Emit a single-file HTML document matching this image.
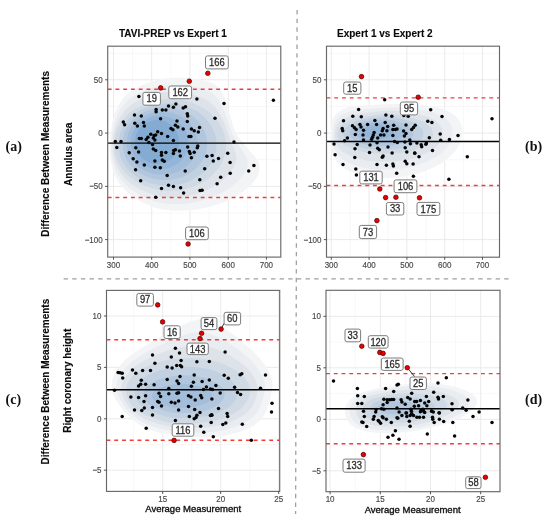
<!DOCTYPE html>
<html><head><meta charset="utf-8"><style>
html,body{margin:0;padding:0;background:#fff;}
svg{display:block;}
.tk{font-family:"Liberation Sans",Arial,sans-serif;font-size:8px;fill:#4a4a4a;stroke:#4a4a4a;stroke-width:0.15px;}
.lb{font-family:"Liberation Sans",Arial,sans-serif;font-size:9.4px;fill:#2a2a2a;stroke:#2a2a2a;stroke-width:0.25px;}
.ti{font-family:"Liberation Sans",Arial,sans-serif;font-size:10px;font-weight:bold;fill:#0a0a0a;stroke:#0a0a0a;stroke-width:0.12px;}
.ax{font-family:"Liberation Sans",Arial,sans-serif;font-size:10px;font-weight:bold;fill:#0a0a0a;stroke:#0a0a0a;stroke-width:0.12px;}
.axx{font-family:"Liberation Sans",Arial,sans-serif;font-size:9.5px;fill:#111;stroke:#111;stroke-width:0.35px;}
.pl{font-family:"Liberation Serif","Times New Roman",serif;font-size:14px;font-weight:bold;fill:#111;}
</style></head><body>
<svg width="550" height="520" viewBox="0 0 550 520">
<rect width="550" height="520" fill="#fff"/>
<defs>
<clipPath id="cTL"><rect x="107.7" y="46.2" width="173.1" height="210.9"/></clipPath>
<clipPath id="cTR"><rect x="326.5" y="46.2" width="173" height="211"/></clipPath>
<clipPath id="cBL"><rect x="106.5" y="290.4" width="173.2" height="201"/></clipPath>
<clipPath id="cBR"><rect x="326" y="290.3" width="174" height="201.4"/></clipPath>
<filter id="soft" x="-10%" y="-10%" width="120%" height="120%"><feGaussianBlur stdDeviation="0.6"/></filter>
</defs>
<line x1="63.6" y1="278.8" x2="510" y2="278.8" stroke="#a0a0a0" stroke-width="1.3" stroke-dasharray="4.4 4.24"/>
<line x1="297.1" y1="10" x2="295.6" y2="514" stroke="#a0a0a0" stroke-width="1.3" stroke-dasharray="4.4 4.24"/>
<g clip-path="url(#cTL)">
<line x1="132.6" y1="46.2" x2="132.6" y2="257.1" stroke="#f2f2f2" stroke-width="0.6"/>
<line x1="170.8" y1="46.2" x2="170.8" y2="257.1" stroke="#f2f2f2" stroke-width="0.6"/>
<line x1="209.1" y1="46.2" x2="209.1" y2="257.1" stroke="#f2f2f2" stroke-width="0.6"/>
<line x1="247.3" y1="46.2" x2="247.3" y2="257.1" stroke="#f2f2f2" stroke-width="0.6"/>
<line x1="107.7" y1="53.2" x2="280.8" y2="53.2" stroke="#f2f2f2" stroke-width="0.6"/>
<line x1="107.7" y1="106.5" x2="280.8" y2="106.5" stroke="#f2f2f2" stroke-width="0.6"/>
<line x1="107.7" y1="159.7" x2="280.8" y2="159.7" stroke="#f2f2f2" stroke-width="0.6"/>
<line x1="107.7" y1="213" x2="280.8" y2="213" stroke="#f2f2f2" stroke-width="0.6"/>
<line x1="113.5" y1="46.2" x2="113.5" y2="257.1" stroke="#e8e8e8" stroke-width="0.9"/>
<line x1="151.7" y1="46.2" x2="151.7" y2="257.1" stroke="#e8e8e8" stroke-width="0.9"/>
<line x1="189.9" y1="46.2" x2="189.9" y2="257.1" stroke="#e8e8e8" stroke-width="0.9"/>
<line x1="228.2" y1="46.2" x2="228.2" y2="257.1" stroke="#e8e8e8" stroke-width="0.9"/>
<line x1="266.4" y1="46.2" x2="266.4" y2="257.1" stroke="#e8e8e8" stroke-width="0.9"/>
<line x1="107.7" y1="79.8" x2="280.8" y2="79.8" stroke="#e8e8e8" stroke-width="0.9"/>
<line x1="107.7" y1="133.1" x2="280.8" y2="133.1" stroke="#e8e8e8" stroke-width="0.9"/>
<line x1="107.7" y1="186.4" x2="280.8" y2="186.4" stroke="#e8e8e8" stroke-width="0.9"/>
<line x1="107.7" y1="239.6" x2="280.8" y2="239.6" stroke="#e8e8e8" stroke-width="0.9"/>
<g filter="url(#soft)">
<path d="M157,80C166.2,77.7 175.8,77.5 185,78C194.2,78.5 205.5,80 212,83C218.5,86 221,90.7 224,96C227,101.3 228,108.8 230,115C232,121.2 232.8,127.2 236,133C239.2,138.8 245.2,145 249,150C252.8,155 257.7,158.5 259,163C260.3,167.5 259.5,172.3 257,177C254.5,181.7 249.8,186.7 244,191C238.2,195.3 230.7,199.8 222,203C213.3,206.2 202.3,209 192,210C181.7,211 170,211.3 160,209C150,206.7 139.3,201.2 132,196C124.7,190.8 119.7,184.8 116,178C112.3,171.2 110.8,163 110,155C109.2,147 109.8,137.8 111,130C112.2,122.2 113.8,114.3 117,108C120.2,101.7 123.3,96.7 130,92C136.7,87.3 147.8,82.3 157,80Z" fill="rgb(243, 244, 246)"/>
<path d="M157.7,86.6C166.3,84.6 175.6,84.6 184.1,85.4C192.5,86.1 202.5,88.2 208.5,91C214.4,93.7 216.8,97.5 219.8,102C222.9,106.6 224.6,112.8 226.7,118.1C228.8,123.5 229.9,129.1 232.4,134.3C234.8,139.5 238.8,145 241.3,149.3C243.8,153.6 246.9,156.3 247.6,160C248.3,163.8 247.6,167.7 245.5,171.6C243.4,175.6 239.9,179.9 235.2,183.8C230.5,187.7 224.6,191.9 217.1,195.1C209.7,198.3 200.1,201.6 190.7,202.9C181.2,204.1 170,204.7 160.5,202.8C150.9,200.9 140.6,195.9 133.5,191.3C126.5,186.7 121.7,181.2 118.1,175C114.4,168.8 112.5,161.5 111.6,154.2C110.7,146.9 111.3,138.3 112.6,131.2C113.9,124.1 116.1,117.2 119.4,111.6C122.6,105.9 125.7,101.6 132.1,97.4C138.5,93.3 149,88.6 157.7,86.6Z" fill="rgb(233, 236, 240)"/>
<path d="M158.3,93.3C166.5,91.6 175.4,91.8 183.2,92.7C190.9,93.7 199.5,96.4 204.9,98.9C210.4,101.5 212.6,104.3 215.6,108.1C218.7,111.8 221.2,116.7 223.4,121.3C225.6,125.9 227,131 228.7,135.5C230.4,140.1 232.3,145 233.6,148.6C234.8,152.2 236.2,154.1 236.3,157.1C236.3,160 235.7,163 234,166.3C232.4,169.5 230,173 226.4,176.5C222.7,180 218.4,184 212.3,187.2C206.1,190.4 197.9,194.1 189.3,195.7C180.7,197.3 169.9,198.2 160.9,196.6C151.9,195.1 141.8,190.7 135,186.6C128.2,182.5 123.8,177.5 120.1,172C116.5,166.5 114.2,160 113.2,153.4C112.2,146.8 112.7,138.8 114.2,132.4C115.6,126.1 118.4,120 121.7,115.1C125.1,110.2 128.1,106.5 134.2,102.9C140.3,99.2 150.2,94.9 158.3,93.3Z" fill="rgb(222, 227, 234)"/>
<path d="M159,99.9C166.7,98.5 175.2,98.9 182.2,100.1C189.3,101.3 196.5,104.6 201.4,106.9C206.3,109.2 208.4,111.2 211.5,114.1C214.6,117 217.8,120.6 220.1,124.4C222.4,128.2 224.1,132.9 225.1,136.8C226.1,140.7 225.9,145 225.9,147.9C225.9,150.8 225.4,152 224.9,154.1C224.3,156.3 223.8,158.4 222.6,160.9C221.3,163.4 220.1,166.2 217.6,169.3C215,172.3 212.3,176 207.4,179.3C202.4,182.5 195.6,186.7 188,188.6C180.3,190.4 169.9,191.6 161.4,190.4C152.8,189.3 143.1,185.5 136.5,181.9C130,178.3 125.8,173.9 122.2,169C118.6,164.1 115.8,158.4 114.8,152.6C113.7,146.7 114.2,139.3 115.7,133.7C117.3,128 120.7,122.9 124.1,118.7C127.5,114.4 130.4,111.4 136.3,108.3C142.1,105.2 151.4,101.3 159,99.9Z" fill="rgb(208, 218, 229)"/>
<path d="M157.8,104C164.5,102.8 171.9,103.1 178.1,104.2C184.4,105.2 190.7,108.2 195,110.3C199.3,112.4 201.1,114.1 203.8,116.7C206.6,119.3 209.4,122.6 211.4,126C213.4,129.4 215,133.5 215.8,137C216.7,140.5 216.5,144.4 216.5,147C216.5,149.6 216.1,150.6 215.6,152.6C215.1,154.5 214.6,156.4 213.6,158.6C212.5,160.9 211.4,163.4 209.2,166.2C207,168.9 204.6,172.2 200.2,175.1C195.9,178 189.9,181.8 183.2,183.4C176.4,185.1 167.3,186.1 159.8,185.1C152.3,184.1 143.7,180.6 138,177.4C132.3,174.2 128.6,170.3 125.4,165.9C122.2,161.5 119.8,156.4 118.9,151.2C117.9,145.9 118.4,139.3 119.7,134.2C121.1,129.2 124.1,124.6 127.1,120.8C130.1,117 132.6,114.3 137.8,111.5C142.9,108.7 151,105.2 157.8,104Z" fill="rgb(194, 209, 225)"/>
<path d="M156.5,108.1C162.3,107 168.7,107.4 174.1,108.3C179.4,109.2 184.9,111.8 188.6,113.7C192.3,115.5 193.8,117 196.2,119.3C198.6,121.6 201,124.5 202.7,127.5C204.4,130.5 205.8,134.2 206.5,137.3C207.2,140.4 207.1,143.8 207.1,146.1C207.1,148.4 206.8,149.3 206.4,151C205.9,152.7 205.5,154.4 204.6,156.4C203.7,158.4 202.7,160.6 200.8,163C198.9,165.4 196.8,168.4 193.1,170.9C189.4,173.4 184.2,176.8 178.4,178.3C172.6,179.8 164.7,180.6 158.3,179.8C151.8,178.9 144.4,175.8 139.5,173C134.5,170.2 131.4,166.6 128.6,162.8C125.9,158.9 123.8,154.4 123,149.8C122.2,145.1 122.5,139.3 123.7,134.8C124.9,130.4 127.4,126.3 130,123C132.6,119.6 134.8,117.2 139.3,114.7C143.7,112.3 150.7,109.2 156.5,108.1Z" fill="rgb(178, 199, 221)"/>
<path d="M155.2,112.2C160.1,111.3 165.5,111.6 170,112.4C174.5,113.2 179.1,115.4 182.2,117C185.3,118.6 186.6,120 188.6,122C190.5,124 192.6,126.5 194,129.1C195.5,131.7 196.6,134.9 197.2,137.5C197.8,140.2 197.8,143.2 197.7,145.2C197.7,147.2 197.4,148 197.1,149.5C196.7,150.9 196.4,152.4 195.6,154.1C194.8,155.8 194,157.8 192.4,159.9C190.8,162 189.1,164.5 186,166.7C182.8,168.9 178.5,171.8 173.6,173.1C168.7,174.4 162.2,175.2 156.7,174.4C151.3,173.7 145.1,171 140.9,168.5C136.8,166.1 134.1,163 131.8,159.7C129.5,156.3 127.8,152.4 127.1,148.4C126.4,144.4 126.7,139.3 127.7,135.4C128.7,131.5 130.8,128 133,125.1C135.2,122.2 137.1,120.1 140.8,118C144.5,115.8 150.3,113.1 155.2,112.2Z" fill="rgb(163, 190, 218)"/>
<path d="M154,116.3C157.9,115.5 162.3,115.8 165.9,116.4C169.5,117.1 173.2,119.1 175.8,120.4C178.3,121.8 179.3,122.9 180.9,124.6C182.5,126.3 184.2,128.4 185.4,130.6C186.5,132.8 187.4,135.5 187.9,137.8C188.4,140.1 188.4,142.6 188.3,144.3C188.3,146 188.1,146.7 187.8,147.9C187.5,149.2 187.3,150.4 186.6,151.9C186,153.3 185.4,155 184.1,156.7C182.8,158.5 181.4,160.7 178.8,162.6C176.3,164.4 172.8,166.9 168.8,168C164.9,169.1 159.6,169.7 155.2,169.1C150.7,168.4 145.7,166.2 142.4,164.1C139,162 136.9,159.4 135,156.6C133.2,153.7 131.7,150.4 131.2,147C130.6,143.6 130.9,139.3 131.7,136C132.5,132.7 134.2,129.7 136,127.3C137.7,124.8 139.3,123 142.3,121.2C145.2,119.4 150,117.1 154,116.3Z" fill="rgb(147, 181, 215)"/>
<path d="M152.7,120.4C155.7,119.8 159,120 161.8,120.5C164.6,121.1 167.4,122.7 169.3,123.8C171.3,124.9 172.1,125.8 173.3,127.2C174.5,128.6 175.8,130.4 176.7,132.2C177.6,134 178.3,136.2 178.6,138.1C179,139.9 179,142 179,143.4C178.9,144.8 178.8,145.3 178.6,146.4C178.3,147.4 178.1,148.4 177.6,149.6C177.2,150.8 176.7,152.2 175.7,153.6C174.7,155.1 173.6,156.8 171.7,158.4C169.7,159.9 167.1,161.9 164.1,162.8C161,163.7 157,164.3 153.6,163.7C150.2,163.2 146.4,161.4 143.9,159.6C141.3,157.9 139.7,155.8 138.2,153.5C136.8,151.1 135.7,148.4 135.3,145.6C134.9,142.8 135.1,139.3 135.7,136.6C136.3,133.9 137.6,131.4 139,129.4C140.3,127.4 141.5,125.9 143.7,124.4C146,122.9 149.7,121.1 152.7,120.4Z" fill="rgb(132, 172, 211)"/>
</g>
<line x1="107.7" y1="143.1" x2="280.8" y2="143.1" stroke="#000" stroke-width="1.45"/>
<line x1="107.7" y1="89.2" x2="280.8" y2="89.2" stroke="#f23c3c" stroke-width="1.4" stroke-dasharray="3.9 3.85"/>
<line x1="107.7" y1="197.5" x2="280.8" y2="197.5" stroke="#f23c3c" stroke-width="1.4" stroke-dasharray="3.9 3.85"/>
<circle cx="138.9" cy="96.4" r="1.75" fill="#050505"/>
<circle cx="156.1" cy="109.4" r="1.75" fill="#050505"/>
<circle cx="156.1" cy="111.7" r="1.75" fill="#050505"/>
<circle cx="162.3" cy="110.1" r="1.75" fill="#050505"/>
<circle cx="165.9" cy="110.1" r="1.75" fill="#050505"/>
<circle cx="168.5" cy="106.1" r="1.75" fill="#050505"/>
<circle cx="173.4" cy="107.3" r="1.75" fill="#050505"/>
<circle cx="175.9" cy="104" r="1.75" fill="#050505"/>
<circle cx="183.2" cy="108.1" r="1.75" fill="#050505"/>
<circle cx="185.5" cy="106.8" r="1.75" fill="#050505"/>
<circle cx="187.3" cy="113.8" r="1.75" fill="#050505"/>
<circle cx="187.7" cy="116" r="1.75" fill="#050505"/>
<circle cx="134.5" cy="115" r="1.75" fill="#050505"/>
<circle cx="141.3" cy="116" r="1.75" fill="#050505"/>
<circle cx="160.6" cy="118.7" r="1.75" fill="#050505"/>
<circle cx="177" cy="120.9" r="1.75" fill="#050505"/>
<circle cx="187.3" cy="121.5" r="1.75" fill="#050505"/>
<circle cx="123.3" cy="122" r="1.75" fill="#050505"/>
<circle cx="124.6" cy="124.8" r="1.75" fill="#050505"/>
<circle cx="134.8" cy="123.2" r="1.75" fill="#050505"/>
<circle cx="137.4" cy="126.1" r="1.75" fill="#050505"/>
<circle cx="143.5" cy="122.5" r="1.75" fill="#050505"/>
<circle cx="144.3" cy="126.1" r="1.75" fill="#050505"/>
<circle cx="175.4" cy="125.3" r="1.75" fill="#050505"/>
<circle cx="177.8" cy="126.9" r="1.75" fill="#050505"/>
<circle cx="171" cy="128.6" r="1.75" fill="#050505"/>
<circle cx="172.9" cy="129.7" r="1.75" fill="#050505"/>
<circle cx="183.2" cy="128.9" r="1.75" fill="#050505"/>
<circle cx="191.4" cy="128.9" r="1.75" fill="#050505"/>
<circle cx="194.2" cy="130.7" r="1.75" fill="#050505"/>
<circle cx="157.7" cy="131.8" r="1.75" fill="#050505"/>
<circle cx="161.5" cy="133.5" r="1.75" fill="#050505"/>
<circle cx="150.8" cy="134.3" r="1.75" fill="#050505"/>
<circle cx="154.1" cy="135.6" r="1.75" fill="#050505"/>
<circle cx="155.7" cy="135.1" r="1.75" fill="#050505"/>
<circle cx="167.7" cy="136.4" r="1.75" fill="#050505"/>
<circle cx="139.4" cy="138.4" r="1.75" fill="#050505"/>
<circle cx="141.3" cy="138.4" r="1.75" fill="#050505"/>
<circle cx="147.9" cy="137.2" r="1.75" fill="#050505"/>
<circle cx="146.2" cy="139.5" r="1.75" fill="#050505"/>
<circle cx="153.3" cy="137.9" r="1.75" fill="#050505"/>
<circle cx="154.9" cy="140" r="1.75" fill="#050505"/>
<circle cx="189" cy="136.4" r="1.75" fill="#050505"/>
<circle cx="190.9" cy="136.4" r="1.75" fill="#050505"/>
<circle cx="173.4" cy="140.5" r="1.75" fill="#050505"/>
<circle cx="115.3" cy="141.6" r="1.75" fill="#050505"/>
<circle cx="121" cy="141.6" r="1.75" fill="#050505"/>
<circle cx="148.9" cy="142.5" r="1.75" fill="#050505"/>
<circle cx="152.5" cy="144.6" r="1.75" fill="#050505"/>
<circle cx="116.8" cy="147.4" r="1.75" fill="#050505"/>
<circle cx="135.8" cy="147.7" r="1.75" fill="#050505"/>
<circle cx="153.3" cy="149" r="1.75" fill="#050505"/>
<circle cx="155.7" cy="150.6" r="1.75" fill="#050505"/>
<circle cx="187.7" cy="147" r="1.75" fill="#050505"/>
<circle cx="138.6" cy="152" r="1.75" fill="#050505"/>
<circle cx="129.2" cy="152.8" r="1.75" fill="#050505"/>
<circle cx="161.5" cy="152.6" r="1.75" fill="#050505"/>
<circle cx="165.9" cy="152.6" r="1.75" fill="#050505"/>
<circle cx="161.5" cy="155.2" r="1.75" fill="#050505"/>
<circle cx="173.7" cy="150.6" r="1.75" fill="#050505"/>
<circle cx="175.4" cy="149.8" r="1.75" fill="#050505"/>
<circle cx="173.4" cy="153.6" r="1.75" fill="#050505"/>
<circle cx="179.5" cy="151" r="1.75" fill="#050505"/>
<circle cx="180.3" cy="155.9" r="1.75" fill="#050505"/>
<circle cx="189.3" cy="151.5" r="1.75" fill="#050505"/>
<circle cx="190.1" cy="153.6" r="1.75" fill="#050505"/>
<circle cx="194.2" cy="152.3" r="1.75" fill="#050505"/>
<circle cx="191.4" cy="157.7" r="1.75" fill="#050505"/>
<circle cx="133.2" cy="158.8" r="1.75" fill="#050505"/>
<circle cx="136.9" cy="162.1" r="1.75" fill="#050505"/>
<circle cx="154.9" cy="161" r="1.75" fill="#050505"/>
<circle cx="162.3" cy="160.1" r="1.75" fill="#050505"/>
<circle cx="164.2" cy="161.3" r="1.75" fill="#050505"/>
<circle cx="144.3" cy="165.1" r="1.75" fill="#050505"/>
<circle cx="135.6" cy="169.7" r="1.75" fill="#050505"/>
<circle cx="154.9" cy="167.3" r="1.75" fill="#050505"/>
<circle cx="160.3" cy="167.8" r="1.75" fill="#050505"/>
<circle cx="185.2" cy="171" r="1.75" fill="#050505"/>
<circle cx="167.2" cy="175.5" r="1.75" fill="#050505"/>
<circle cx="140.7" cy="180.7" r="1.75" fill="#050505"/>
<circle cx="168.5" cy="185.3" r="1.75" fill="#050505"/>
<circle cx="173.4" cy="186.4" r="1.75" fill="#050505"/>
<circle cx="161.5" cy="188.6" r="1.75" fill="#050505"/>
<circle cx="180.6" cy="187.7" r="1.75" fill="#050505"/>
<circle cx="183.6" cy="193" r="1.75" fill="#050505"/>
<circle cx="155.7" cy="197.2" r="1.75" fill="#050505"/>
<circle cx="196.9" cy="99.1" r="1.75" fill="#050505"/>
<circle cx="224" cy="103.6" r="1.75" fill="#050505"/>
<circle cx="273.4" cy="100.2" r="1.75" fill="#050505"/>
<circle cx="215" cy="118.3" r="1.75" fill="#050505"/>
<circle cx="199.5" cy="127.5" r="1.75" fill="#050505"/>
<circle cx="198.3" cy="132.1" r="1.75" fill="#050505"/>
<circle cx="234" cy="142" r="1.75" fill="#050505"/>
<circle cx="197.8" cy="145.9" r="1.75" fill="#050505"/>
<circle cx="197.3" cy="147.7" r="1.75" fill="#050505"/>
<circle cx="206.9" cy="156.3" r="1.75" fill="#050505"/>
<circle cx="212.1" cy="155.4" r="1.75" fill="#050505"/>
<circle cx="213.3" cy="161" r="1.75" fill="#050505"/>
<circle cx="218.5" cy="158.6" r="1.75" fill="#050505"/>
<circle cx="227.7" cy="153.3" r="1.75" fill="#050505"/>
<circle cx="230.1" cy="162.4" r="1.75" fill="#050505"/>
<circle cx="253.9" cy="165.5" r="1.75" fill="#050505"/>
<circle cx="204.7" cy="168.7" r="1.75" fill="#050505"/>
<circle cx="230.2" cy="173.3" r="1.75" fill="#050505"/>
<circle cx="220.7" cy="177.3" r="1.75" fill="#050505"/>
<circle cx="199.8" cy="179.7" r="1.75" fill="#050505"/>
<circle cx="217.1" cy="183.7" r="1.75" fill="#050505"/>
<circle cx="200" cy="190.6" r="1.75" fill="#050505"/>
<circle cx="202.1" cy="190.2" r="1.75" fill="#050505"/>
<circle cx="248.7" cy="171.1" r="1.75" fill="#050505"/>
<circle cx="160.7" cy="87.9" r="2.3" fill="#e80000" stroke="#4a0000" stroke-width="0.7"/>
<circle cx="189.3" cy="81.2" r="2.3" fill="#e80000" stroke="#4a0000" stroke-width="0.7"/>
<circle cx="207.8" cy="73.3" r="2.3" fill="#e80000" stroke="#4a0000" stroke-width="0.7"/>
<circle cx="188.1" cy="244" r="2.3" fill="#e80000" stroke="#4a0000" stroke-width="0.7"/>
<rect x="205.5" y="55.9" width="22.8" height="13" rx="2" fill="#fff" stroke="#7c7c7c" stroke-width="1"/>
<text class="lb" transform="translate(216.9 66) scale(1 1.16)" text-anchor="middle">166</text>
<rect x="168.8" y="86" width="22.8" height="12.7" rx="2" fill="#fff" stroke="#7c7c7c" stroke-width="1"/>
<text class="lb" transform="translate(180.2 95.9) scale(1 1.16)" text-anchor="middle">162</text>
<rect x="142.9" y="92.4" width="17.5" height="12.8" rx="2" fill="#fff" stroke="#7c7c7c" stroke-width="1"/>
<text class="lb" transform="translate(151.7 102.4) scale(1 1.16)" text-anchor="middle">19</text>
<rect x="185.6" y="227" width="22.7" height="12.7" rx="2" fill="#fff" stroke="#7c7c7c" stroke-width="1"/>
<text class="lb" transform="translate(196.9 236.9) scale(1 1.16)" text-anchor="middle">106</text>
</g>
<rect x="107.7" y="46.2" width="173.1" height="210.9" fill="none" stroke="#686868" stroke-width="1.15"/>
<line x1="113.5" y1="257.1" x2="113.5" y2="259.70000000000005" stroke="#444" stroke-width="0.9"/>
<text class="tk" transform="translate(113.5 267.7) scale(1 1.12)" text-anchor="middle">300</text>
<line x1="151.7" y1="257.1" x2="151.7" y2="259.70000000000005" stroke="#444" stroke-width="0.9"/>
<text class="tk" transform="translate(151.7 267.7) scale(1 1.12)" text-anchor="middle">400</text>
<line x1="189.9" y1="257.1" x2="189.9" y2="259.70000000000005" stroke="#444" stroke-width="0.9"/>
<text class="tk" transform="translate(189.9 267.7) scale(1 1.12)" text-anchor="middle">500</text>
<line x1="228.2" y1="257.1" x2="228.2" y2="259.70000000000005" stroke="#444" stroke-width="0.9"/>
<text class="tk" transform="translate(228.2 267.7) scale(1 1.12)" text-anchor="middle">600</text>
<line x1="266.4" y1="257.1" x2="266.4" y2="259.70000000000005" stroke="#444" stroke-width="0.9"/>
<text class="tk" transform="translate(266.4 267.7) scale(1 1.12)" text-anchor="middle">700</text>
<line x1="105.10000000000001" y1="79.8" x2="107.7" y2="79.8" stroke="#444" stroke-width="0.9"/>
<text class="tk" transform="translate(102.7 82.7) scale(1 1.12)" text-anchor="end">50</text>
<line x1="105.10000000000001" y1="133.1" x2="107.7" y2="133.1" stroke="#444" stroke-width="0.9"/>
<text class="tk" transform="translate(102.7 136) scale(1 1.12)" text-anchor="end">0</text>
<line x1="105.10000000000001" y1="186.4" x2="107.7" y2="186.4" stroke="#444" stroke-width="0.9"/>
<text class="tk" transform="translate(102.7 189.3) scale(1 1.12)" text-anchor="end">−50</text>
<line x1="105.10000000000001" y1="239.6" x2="107.7" y2="239.6" stroke="#444" stroke-width="0.9"/>
<text class="tk" transform="translate(102.7 242.5) scale(1 1.12)" text-anchor="end">−100</text>
<g clip-path="url(#cTR)">
<line x1="350.2" y1="46.2" x2="350.2" y2="257.2" stroke="#f2f2f2" stroke-width="0.6"/>
<line x1="388" y1="46.2" x2="388" y2="257.2" stroke="#f2f2f2" stroke-width="0.6"/>
<line x1="425.8" y1="46.2" x2="425.8" y2="257.2" stroke="#f2f2f2" stroke-width="0.6"/>
<line x1="463.6" y1="46.2" x2="463.6" y2="257.2" stroke="#f2f2f2" stroke-width="0.6"/>
<line x1="326.5" y1="53.2" x2="499.5" y2="53.2" stroke="#f2f2f2" stroke-width="0.6"/>
<line x1="326.5" y1="106.5" x2="499.5" y2="106.5" stroke="#f2f2f2" stroke-width="0.6"/>
<line x1="326.5" y1="159.7" x2="499.5" y2="159.7" stroke="#f2f2f2" stroke-width="0.6"/>
<line x1="326.5" y1="213" x2="499.5" y2="213" stroke="#f2f2f2" stroke-width="0.6"/>
<line x1="331.3" y1="46.2" x2="331.3" y2="257.2" stroke="#e8e8e8" stroke-width="0.9"/>
<line x1="369.1" y1="46.2" x2="369.1" y2="257.2" stroke="#e8e8e8" stroke-width="0.9"/>
<line x1="406.9" y1="46.2" x2="406.9" y2="257.2" stroke="#e8e8e8" stroke-width="0.9"/>
<line x1="444.7" y1="46.2" x2="444.7" y2="257.2" stroke="#e8e8e8" stroke-width="0.9"/>
<line x1="482.5" y1="46.2" x2="482.5" y2="257.2" stroke="#e8e8e8" stroke-width="0.9"/>
<line x1="326.5" y1="79.8" x2="499.5" y2="79.8" stroke="#e8e8e8" stroke-width="0.9"/>
<line x1="326.5" y1="133.1" x2="499.5" y2="133.1" stroke="#e8e8e8" stroke-width="0.9"/>
<line x1="326.5" y1="186.4" x2="499.5" y2="186.4" stroke="#e8e8e8" stroke-width="0.9"/>
<line x1="326.5" y1="239.6" x2="499.5" y2="239.6" stroke="#e8e8e8" stroke-width="0.9"/>
<g filter="url(#soft)">
<path d="M334,117C336.5,113.3 340,110 346,108C352,106 361,105.7 370,105C379,104.3 390,103.8 400,104C410,104.2 421.7,104.7 430,106C438.3,107.3 445,109.3 450,112C455,114.7 458,118.2 460,122C462,125.8 462.7,130.3 462,135C461.3,139.7 459.7,145.2 456,150C452.3,154.8 447.3,159.8 440,164C432.7,168.2 421.7,172.7 412,175C402.3,177.3 391.7,178.3 382,178C372.3,177.7 361.3,175.5 354,173C346.7,170.5 341.8,167.2 338,163C334.2,158.8 332.2,153.5 331,148C329.8,142.5 330.5,135.2 331,130C331.5,124.8 331.5,120.7 334,117Z" fill="rgb(243, 244, 246)"/>
<path d="M336,120.3C338.1,117.4 340.7,114.9 345.6,113C350.5,111.2 357.1,110.2 365.7,109.2C374.3,108.3 387.1,107.2 397.2,107.4C407.3,107.6 418.9,109.2 426.5,110.7C434,112.2 438.6,114.1 442.6,116.3C446.6,118.6 448.8,121.2 450.4,124.2C452,127.2 452.7,130.6 452.3,134.2C451.9,137.8 450.9,141.9 448.1,145.7C445.4,149.6 442.1,153.5 435.8,157.1C429.4,160.7 419.7,165.2 410,167.3C400.3,169.4 387.5,170.2 377.8,169.6C368.1,169.1 358.4,166.5 351.9,164.2C345.4,161.9 342,159.2 338.8,155.8C335.7,152.5 334.1,148.4 333.1,144.2C332.2,139.9 332.7,134.3 333.2,130.3C333.7,126.3 334,123.2 336,120.3Z" fill="rgb(233, 236, 240)"/>
<path d="M338.1,123.6C339.7,121.5 341.3,119.7 345.2,118C349.1,116.4 353.2,114.7 361.4,113.5C369.6,112.3 384.1,110.5 394.4,110.8C404.7,111.1 416.2,113.7 423,115.4C429.7,117 432.2,118.8 435.2,120.6C438.2,122.5 439.6,124.3 440.8,126.4C442.1,128.6 442.7,130.8 442.6,133.3C442.5,135.8 442.1,138.7 440.2,141.5C438.4,144.3 436.9,147.2 431.6,150.3C426.2,153.3 417.6,157.8 408,159.7C398.3,161.5 383.3,162 373.6,161.3C363.9,160.6 355.4,157.5 349.7,155.4C344.1,153.3 342.1,151.2 339.7,148.7C337.2,146.1 336,143.3 335.2,140.3C334.5,137.3 334.9,133.4 335.4,130.6C335.9,127.8 336.4,125.7 338.1,123.6Z" fill="rgb(222, 227, 234)"/>
<path d="M340.1,126.9C341.3,125.6 342,124.6 344.8,123.1C347.6,121.5 349.3,119.2 357.1,117.7C364.9,116.2 381.2,113.8 391.6,114.2C402,114.6 413.4,118.3 419.4,120.1C425.5,121.9 425.8,123.5 427.8,124.9C429.7,126.4 430.4,127.4 431.3,128.7C432.1,129.9 432.7,131.1 432.9,132.5C433.1,133.9 433.3,135.4 432.4,137.2C431.4,139.1 431.8,141 427.4,143.4C423,145.9 415.6,150.4 406,152C396.3,153.6 379.2,153.8 369.5,152.9C359.7,152 352.4,148.4 347.6,146.5C342.8,144.6 342.2,143.2 340.5,141.5C338.8,139.8 337.9,138.2 337.4,136.5C336.9,134.7 337.1,132.5 337.6,130.9C338,129.3 338.9,128.3 340.1,126.9Z" fill="rgb(208, 218, 229)"/>
<path d="M345.8,127.6C346.8,126.5 347.4,125.6 349.8,124.3C352.1,123.1 353.5,121.1 360,119.9C366.5,118.6 380.1,116.6 388.8,116.9C397.4,117.2 406.9,120.3 411.9,121.8C417,123.3 417.3,124.7 418.9,125.9C420.5,127.1 421.1,128 421.8,129C422.5,130.1 423,131.1 423.1,132.3C423.3,133.5 423.5,134.7 422.7,136.2C422,137.7 422.2,139.3 418.5,141.4C414.9,143.4 408.8,147.2 400.7,148.6C392.7,149.9 378.4,150.1 370.3,149.3C362.2,148.6 356.1,145.6 352.1,144C348.1,142.4 347.6,141.2 346.2,139.8C344.7,138.4 344,137.1 343.6,135.6C343.2,134.1 343.4,132.2 343.7,130.9C344.1,129.6 344.8,128.7 345.8,127.6Z" fill="rgb(194, 209, 225)"/>
<path d="M351.6,128.2C352.4,127.4 352.8,126.7 354.7,125.6C356.6,124.6 357.7,123 362.9,122C368.1,121 379,119.4 385.9,119.6C392.8,119.9 400.4,122.4 404.5,123.6C408.5,124.8 408.7,125.9 410,126.9C411.3,127.8 411.8,128.5 412.3,129.4C412.9,130.3 413.3,131 413.4,132C413.5,133 413.7,134 413.1,135.2C412.5,136.4 412.7,137.7 409.7,139.4C406.8,141 401.9,144.1 395.5,145.1C389,146.2 377.6,146.4 371.1,145.8C364.7,145.2 359.8,142.8 356.6,141.5C353.4,140.2 353,139.2 351.8,138.1C350.7,136.9 350.1,135.9 349.7,134.7C349.4,133.5 349.6,132 349.9,130.9C350.2,129.8 350.8,129.1 351.6,128.2Z" fill="rgb(178, 199, 221)"/>
<path d="M357.3,128.9C357.9,128.2 358.2,127.7 359.7,126.9C361.1,126.1 361.9,124.9 365.8,124.2C369.7,123.4 377.9,122.1 383.1,122.3C388.2,122.5 394,124.4 397,125.4C400,126.3 400.2,127.1 401.1,127.8C402.1,128.6 402.5,129.1 402.9,129.8C403.3,130.4 403.6,131 403.7,131.7C403.8,132.5 403.9,133.2 403.4,134.2C403,135.1 403.1,136.1 400.9,137.3C398.7,138.6 395.1,140.9 390.2,141.7C385.4,142.5 376.8,142.7 372,142.2C367.1,141.7 363.5,139.9 361.1,138.9C358.6,137.9 358.3,137.2 357.5,136.3C356.6,135.5 356.2,134.7 355.9,133.8C355.7,132.9 355.8,131.7 356,130.9C356.3,130.1 356.7,129.6 357.3,128.9Z" fill="rgb(163, 190, 218)"/>
<path d="M363,129.5C363.4,129.1 363.7,128.7 364.6,128.2C365.5,127.6 366.1,126.8 368.7,126.3C371.3,125.8 376.7,124.9 380.2,125.1C383.7,125.2 387.5,126.5 389.5,127.1C391.5,127.7 391.6,128.3 392.3,128.8C392.9,129.3 393.1,129.7 393.4,130.1C393.7,130.6 393.9,131 394,131.5C394,132 394.1,132.5 393.8,133.1C393.5,133.8 393.6,134.4 392.1,135.3C390.7,136.2 388.2,137.7 385,138.3C381.8,138.9 376.1,138.9 372.8,138.6C369.6,138.3 367.1,137.1 365.5,136.4C363.9,135.7 363.7,135.2 363.2,134.6C362.6,134 362.3,133.5 362.1,132.9C362,132.3 362,131.5 362.2,130.9C362.3,130.4 362.6,130 363,129.5Z" fill="rgb(147, 181, 215)"/>
</g>
<line x1="326.5" y1="141.5" x2="499.5" y2="141.5" stroke="#000" stroke-width="1.45"/>
<line x1="326.5" y1="97.9" x2="499.5" y2="97.9" stroke="#f23c3c" stroke-width="1.4" stroke-dasharray="3.9 3.85"/>
<line x1="326.5" y1="185.5" x2="499.5" y2="185.5" stroke="#f23c3c" stroke-width="1.4" stroke-dasharray="3.9 3.85"/>
<circle cx="384.7" cy="99.7" r="1.75" fill="#050505"/>
<circle cx="358.6" cy="109.5" r="1.75" fill="#050505"/>
<circle cx="385.9" cy="115" r="1.75" fill="#050505"/>
<circle cx="391.8" cy="116.3" r="1.75" fill="#050505"/>
<circle cx="352.8" cy="116.3" r="1.75" fill="#050505"/>
<circle cx="361.3" cy="116.8" r="1.75" fill="#050505"/>
<circle cx="343.5" cy="120.7" r="1.75" fill="#050505"/>
<circle cx="374.9" cy="120.4" r="1.75" fill="#050505"/>
<circle cx="376.6" cy="124.5" r="1.75" fill="#050505"/>
<circle cx="385.2" cy="122.5" r="1.75" fill="#050505"/>
<circle cx="367.6" cy="124.5" r="1.75" fill="#050505"/>
<circle cx="359.9" cy="124.5" r="1.75" fill="#050505"/>
<circle cx="361" cy="126.9" r="1.75" fill="#050505"/>
<circle cx="352.5" cy="125.8" r="1.75" fill="#050505"/>
<circle cx="354.5" cy="127.7" r="1.75" fill="#050505"/>
<circle cx="356.1" cy="129.4" r="1.75" fill="#050505"/>
<circle cx="342.2" cy="128.6" r="1.75" fill="#050505"/>
<circle cx="342.7" cy="130.7" r="1.75" fill="#050505"/>
<circle cx="363.5" cy="130.2" r="1.75" fill="#050505"/>
<circle cx="387.7" cy="126.6" r="1.75" fill="#050505"/>
<circle cx="393.7" cy="125.3" r="1.75" fill="#050505"/>
<circle cx="406" cy="125" r="1.75" fill="#050505"/>
<circle cx="383.1" cy="128.6" r="1.75" fill="#050505"/>
<circle cx="382.3" cy="130.7" r="1.75" fill="#050505"/>
<circle cx="386.9" cy="130.7" r="1.75" fill="#050505"/>
<circle cx="392.9" cy="129.4" r="1.75" fill="#050505"/>
<circle cx="395.4" cy="129.4" r="1.75" fill="#050505"/>
<circle cx="397" cy="129" r="1.75" fill="#050505"/>
<circle cx="374.1" cy="132.6" r="1.75" fill="#050505"/>
<circle cx="373.3" cy="135.1" r="1.75" fill="#050505"/>
<circle cx="380.6" cy="135.1" r="1.75" fill="#050505"/>
<circle cx="383.9" cy="135.1" r="1.75" fill="#050505"/>
<circle cx="355.3" cy="134.6" r="1.75" fill="#050505"/>
<circle cx="363" cy="135.1" r="1.75" fill="#050505"/>
<circle cx="392.9" cy="135.6" r="1.75" fill="#050505"/>
<circle cx="403.6" cy="131" r="1.75" fill="#050505"/>
<circle cx="406" cy="133.5" r="1.75" fill="#050505"/>
<circle cx="404.4" cy="135.9" r="1.75" fill="#050505"/>
<circle cx="411.7" cy="129.4" r="1.75" fill="#050505"/>
<circle cx="347.4" cy="137.9" r="1.75" fill="#050505"/>
<circle cx="344.6" cy="140.8" r="1.75" fill="#050505"/>
<circle cx="363.5" cy="140" r="1.75" fill="#050505"/>
<circle cx="372.5" cy="137.2" r="1.75" fill="#050505"/>
<circle cx="371.6" cy="139.2" r="1.75" fill="#050505"/>
<circle cx="377.7" cy="138" r="1.75" fill="#050505"/>
<circle cx="394.6" cy="141.6" r="1.75" fill="#050505"/>
<circle cx="397.3" cy="142.5" r="1.75" fill="#050505"/>
<circle cx="404.9" cy="142.1" r="1.75" fill="#050505"/>
<circle cx="409.8" cy="140" r="1.75" fill="#050505"/>
<circle cx="410.4" cy="143.8" r="1.75" fill="#050505"/>
<circle cx="334" cy="144.1" r="1.75" fill="#050505"/>
<circle cx="357.2" cy="144.4" r="1.75" fill="#050505"/>
<circle cx="370" cy="144.9" r="1.75" fill="#050505"/>
<circle cx="377" cy="142.8" r="1.75" fill="#050505"/>
<circle cx="355" cy="148.7" r="1.75" fill="#050505"/>
<circle cx="377.7" cy="148.2" r="1.75" fill="#050505"/>
<circle cx="379.3" cy="149.8" r="1.75" fill="#050505"/>
<circle cx="388" cy="147" r="1.75" fill="#050505"/>
<circle cx="405.2" cy="147.7" r="1.75" fill="#050505"/>
<circle cx="369.5" cy="152.6" r="1.75" fill="#050505"/>
<circle cx="392.1" cy="153.1" r="1.75" fill="#050505"/>
<circle cx="406.8" cy="152" r="1.75" fill="#050505"/>
<circle cx="414.7" cy="153.1" r="1.75" fill="#050505"/>
<circle cx="335.1" cy="154.7" r="1.75" fill="#050505"/>
<circle cx="354.8" cy="157.5" r="1.75" fill="#050505"/>
<circle cx="383.1" cy="155.9" r="1.75" fill="#050505"/>
<circle cx="382.3" cy="157.2" r="1.75" fill="#050505"/>
<circle cx="377" cy="164.6" r="1.75" fill="#050505"/>
<circle cx="405.2" cy="161.3" r="1.75" fill="#050505"/>
<circle cx="406.8" cy="163.7" r="1.75" fill="#050505"/>
<circle cx="343" cy="164.6" r="1.75" fill="#050505"/>
<circle cx="430.7" cy="109.7" r="1.75" fill="#050505"/>
<circle cx="442" cy="116.6" r="1.75" fill="#050505"/>
<circle cx="427.8" cy="121.3" r="1.75" fill="#050505"/>
<circle cx="431.9" cy="122.6" r="1.75" fill="#050505"/>
<circle cx="415.2" cy="125.2" r="1.75" fill="#050505"/>
<circle cx="413.5" cy="127.5" r="1.75" fill="#050505"/>
<circle cx="492" cy="118.7" r="1.75" fill="#050505"/>
<circle cx="440.2" cy="133.9" r="1.75" fill="#050505"/>
<circle cx="458" cy="135.6" r="1.75" fill="#050505"/>
<circle cx="429.3" cy="137.8" r="1.75" fill="#050505"/>
<circle cx="440.7" cy="140.3" r="1.75" fill="#050505"/>
<circle cx="449.4" cy="139.4" r="1.75" fill="#050505"/>
<circle cx="416.9" cy="143" r="1.75" fill="#050505"/>
<circle cx="421.2" cy="144.7" r="1.75" fill="#050505"/>
<circle cx="421.7" cy="146.8" r="1.75" fill="#050505"/>
<circle cx="426.4" cy="143" r="1.75" fill="#050505"/>
<circle cx="425.9" cy="144.2" r="1.75" fill="#050505"/>
<circle cx="432.5" cy="150.6" r="1.75" fill="#050505"/>
<circle cx="414.8" cy="153.2" r="1.75" fill="#050505"/>
<circle cx="419" cy="156.8" r="1.75" fill="#050505"/>
<circle cx="467.3" cy="156.8" r="1.75" fill="#050505"/>
<circle cx="413.1" cy="164.1" r="1.75" fill="#050505"/>
<circle cx="386.4" cy="165.3" r="1.75" fill="#050505"/>
<circle cx="392.9" cy="164" r="1.75" fill="#050505"/>
<circle cx="393.4" cy="166.1" r="1.75" fill="#050505"/>
<circle cx="355.8" cy="168.9" r="1.75" fill="#050505"/>
<circle cx="356.4" cy="175" r="1.75" fill="#050505"/>
<circle cx="396.7" cy="173.3" r="1.75" fill="#050505"/>
<circle cx="413.4" cy="176.3" r="1.75" fill="#050505"/>
<circle cx="448.9" cy="179.2" r="1.75" fill="#050505"/>
<circle cx="403.8" cy="115.5" r="1.75" fill="#050505"/>
<circle cx="408.2" cy="116.2" r="1.75" fill="#050505"/>
<circle cx="361.5" cy="76.6" r="2.3" fill="#e80000" stroke="#4a0000" stroke-width="0.7"/>
<circle cx="418.2" cy="97.2" r="2.3" fill="#e80000" stroke="#4a0000" stroke-width="0.7"/>
<circle cx="379.8" cy="189" r="2.3" fill="#e80000" stroke="#4a0000" stroke-width="0.7"/>
<circle cx="385.6" cy="197.6" r="2.3" fill="#e80000" stroke="#4a0000" stroke-width="0.7"/>
<circle cx="395.9" cy="197.2" r="2.3" fill="#e80000" stroke="#4a0000" stroke-width="0.7"/>
<circle cx="376.9" cy="220.6" r="2.3" fill="#e80000" stroke="#4a0000" stroke-width="0.7"/>
<circle cx="419.5" cy="197.8" r="2.3" fill="#e80000" stroke="#4a0000" stroke-width="0.7"/>
<rect x="343.7" y="82" width="17.2" height="12.2" rx="2" fill="#fff" stroke="#7c7c7c" stroke-width="1"/>
<text class="lb" transform="translate(352.3 91.7) scale(1 1.16)" text-anchor="middle">15</text>
<rect x="400.3" y="102" width="17.3" height="12.9" rx="2" fill="#fff" stroke="#7c7c7c" stroke-width="1"/>
<text class="lb" transform="translate(408.9 112) scale(1 1.16)" text-anchor="middle">95</text>
<rect x="359.8" y="171.2" width="22.4" height="12.7" rx="2" fill="#fff" stroke="#7c7c7c" stroke-width="1"/>
<text class="lb" transform="translate(371 181.2) scale(1 1.16)" text-anchor="middle">131</text>
<rect x="394.1" y="179.9" width="22.8" height="12.8" rx="2" fill="#fff" stroke="#7c7c7c" stroke-width="1"/>
<text class="lb" transform="translate(405.5 189.9) scale(1 1.16)" text-anchor="middle">106</text>
<rect x="386.4" y="202.5" width="17.4" height="12.5" rx="2" fill="#fff" stroke="#7c7c7c" stroke-width="1"/>
<text class="lb" transform="translate(395.1 212.3) scale(1 1.16)" text-anchor="middle">33</text>
<rect x="359.3" y="225.4" width="17.3" height="13.2" rx="2" fill="#fff" stroke="#7c7c7c" stroke-width="1"/>
<text class="lb" transform="translate(367.9 235.6) scale(1 1.16)" text-anchor="middle">73</text>
<rect x="417" y="202.4" width="22.8" height="13" rx="2" fill="#fff" stroke="#7c7c7c" stroke-width="1"/>
<text class="lb" transform="translate(428.4 212.5) scale(1 1.16)" text-anchor="middle">175</text>
</g>
<rect x="326.5" y="46.2" width="173" height="211" fill="none" stroke="#686868" stroke-width="1.15"/>
<line x1="331.3" y1="257.2" x2="331.3" y2="259.8" stroke="#444" stroke-width="0.9"/>
<text class="tk" transform="translate(331.3 267.8) scale(1 1.12)" text-anchor="middle">300</text>
<line x1="369.1" y1="257.2" x2="369.1" y2="259.8" stroke="#444" stroke-width="0.9"/>
<text class="tk" transform="translate(369.1 267.8) scale(1 1.12)" text-anchor="middle">400</text>
<line x1="406.9" y1="257.2" x2="406.9" y2="259.8" stroke="#444" stroke-width="0.9"/>
<text class="tk" transform="translate(406.9 267.8) scale(1 1.12)" text-anchor="middle">500</text>
<line x1="444.7" y1="257.2" x2="444.7" y2="259.8" stroke="#444" stroke-width="0.9"/>
<text class="tk" transform="translate(444.7 267.8) scale(1 1.12)" text-anchor="middle">600</text>
<line x1="482.5" y1="257.2" x2="482.5" y2="259.8" stroke="#444" stroke-width="0.9"/>
<text class="tk" transform="translate(482.5 267.8) scale(1 1.12)" text-anchor="middle">700</text>
<line x1="323.9" y1="79.8" x2="326.5" y2="79.8" stroke="#444" stroke-width="0.9"/>
<text class="tk" transform="translate(321.5 82.7) scale(1 1.12)" text-anchor="end">50</text>
<line x1="323.9" y1="133.1" x2="326.5" y2="133.1" stroke="#444" stroke-width="0.9"/>
<text class="tk" transform="translate(321.5 136) scale(1 1.12)" text-anchor="end">0</text>
<line x1="323.9" y1="186.4" x2="326.5" y2="186.4" stroke="#444" stroke-width="0.9"/>
<text class="tk" transform="translate(321.5 189.3) scale(1 1.12)" text-anchor="end">−50</text>
<line x1="323.9" y1="239.6" x2="326.5" y2="239.6" stroke="#444" stroke-width="0.9"/>
<text class="tk" transform="translate(321.5 242.5) scale(1 1.12)" text-anchor="end">−100</text>
<g clip-path="url(#cBL)">
<line x1="133.7" y1="290.4" x2="133.7" y2="491.4" stroke="#f2f2f2" stroke-width="0.6"/>
<line x1="191.7" y1="290.4" x2="191.7" y2="491.4" stroke="#f2f2f2" stroke-width="0.6"/>
<line x1="249.7" y1="290.4" x2="249.7" y2="491.4" stroke="#f2f2f2" stroke-width="0.6"/>
<line x1="106.5" y1="341.7" x2="279.7" y2="341.7" stroke="#f2f2f2" stroke-width="0.6"/>
<line x1="106.5" y1="393.1" x2="279.7" y2="393.1" stroke="#f2f2f2" stroke-width="0.6"/>
<line x1="106.5" y1="444.5" x2="279.7" y2="444.5" stroke="#f2f2f2" stroke-width="0.6"/>
<line x1="162.7" y1="290.4" x2="162.7" y2="491.4" stroke="#e8e8e8" stroke-width="0.9"/>
<line x1="220.7" y1="290.4" x2="220.7" y2="491.4" stroke="#e8e8e8" stroke-width="0.9"/>
<line x1="278.7" y1="290.4" x2="278.7" y2="491.4" stroke="#e8e8e8" stroke-width="0.9"/>
<line x1="106.5" y1="316" x2="279.7" y2="316" stroke="#e8e8e8" stroke-width="0.9"/>
<line x1="106.5" y1="367.4" x2="279.7" y2="367.4" stroke="#e8e8e8" stroke-width="0.9"/>
<line x1="106.5" y1="418.8" x2="279.7" y2="418.8" stroke="#e8e8e8" stroke-width="0.9"/>
<line x1="106.5" y1="470.2" x2="279.7" y2="470.2" stroke="#e8e8e8" stroke-width="0.9"/>
<g filter="url(#soft)">
<path d="M112,390C111,384.8 111.8,380 114,375C116.2,370 119.8,364.8 125,360C130.2,355.2 137.5,350.7 145,346C152.5,341.3 162.2,336.2 170,332C177.8,327.8 185.8,323 192,321C198.2,319 201.7,318.8 207,320C212.3,321.2 217.7,324 224,328C230.3,332 238.7,338.5 245,344C251.3,349.5 257.5,355 262,361C266.5,367 270.7,373.5 272,380C273.3,386.5 271.7,393.7 270,400C268.3,406.3 266.2,413 262,418C257.8,423 252.8,426.8 245,430C237.2,433.2 225.8,436 215,437C204.2,438 190.8,437.2 180,436C169.2,434.8 158,432.8 150,430C142,427.2 137,423 132,419C127,415 123.3,410.8 120,406C116.7,401.2 113,395.2 112,390Z" fill="rgb(243, 244, 246)"/>
<path d="M116.7,391C115.9,386.8 116.5,383 118.2,378.9C119.8,374.8 122.5,370.6 126.7,366.4C131,362.2 136.7,358 143.7,353.8C150.7,349.6 160.8,344.8 168.7,341.4C176.6,338 185.1,334.7 191.3,333.3C197.5,331.9 200.7,332 205.9,333C211.1,334.1 216.5,336.2 222.6,339.6C228.7,342.9 236.8,348.4 242.6,353.1C248.3,357.8 253.3,362.5 256.9,367.5C260.6,372.5 263.6,377.7 264.6,383C265.6,388.2 264.4,393.9 263,399C261.6,404.1 259.6,409.4 256.1,413.6C252.6,417.7 248.9,421 242,424C235.1,427 225.5,430.3 215,431.6C204.4,432.9 189.7,432.9 178.7,431.8C167.7,430.7 156.6,428 148.9,425.2C141.3,422.5 137.2,418.7 132.8,415.2C128.5,411.7 125.6,408.2 122.9,404.2C120.2,400.1 117.5,395.2 116.7,391Z" fill="rgb(233, 236, 240)"/>
<path d="M121.4,392.1C120.9,388.8 121.2,386 122.4,382.8C123.5,379.6 125.1,376.3 128.4,372.8C131.8,369.2 135.9,365.3 142.4,361.6C148.9,357.9 159.4,353.4 167.4,350.8C175.4,348.1 184.4,346.5 190.6,345.7C196.9,344.9 199.7,345.1 204.8,346C209.9,347 215.3,348.4 221.2,351.1C227.1,353.8 235,358.4 240.1,362.2C245.3,366 249,370.1 251.9,374C254.7,378 256.6,382 257.3,386C257.9,390 257.1,394.2 256,398.1C254.8,401.9 253.1,405.9 250.2,409.2C247.4,412.5 244.9,415.1 239,417.9C233.1,420.8 225.2,424.6 214.9,426.2C204.6,427.8 188.6,428.5 177.4,427.6C166.2,426.6 155.2,423.1 147.9,420.4C140.6,417.8 137.4,414.5 133.7,411.5C130,408.4 127.8,405.6 125.7,402.3C123.7,399.1 122,395.3 121.4,392.1Z" fill="rgb(222, 227, 234)"/>
<path d="M126.1,393.1C125.8,390.8 125.9,389 126.5,386.7C127.2,384.4 127.7,382 130.1,379.2C132.6,376.3 135.2,372.6 141.1,369.4C147.1,366.2 158,362 166.1,360.1C174.2,358.2 183.7,358.2 189.9,358C196.2,357.8 198.7,358.3 203.7,359.1C208.7,359.8 214.1,360.6 219.8,362.7C225.4,364.7 233.2,368.3 237.7,371.3C242.2,374.3 244.8,377.6 246.8,380.6C248.8,383.5 249.5,386.2 249.9,389C250.2,391.7 249.9,394.5 248.9,397.1C248,399.7 246.5,402.3 244.4,404.7C242.2,407.2 240.9,409.2 236,411.9C231.1,414.6 224.9,418.8 214.9,420.7C204.9,422.7 187.4,424.2 176.1,423.4C164.7,422.5 153.7,418.3 146.8,415.7C139.9,413 137.5,410.2 134.5,407.7C131.5,405.2 130,402.9 128.6,400.5C127.2,398.1 126.5,395.4 126.1,393.1Z" fill="rgb(208, 218, 229)"/>
<path d="M134.8,394.3C134.5,392.5 134.6,391.1 135.1,389.3C135.7,387.4 136.1,385.6 138.1,383.3C140.1,381.1 142.2,378.1 147.2,375.6C152.2,373.1 161.1,369.8 167.9,368.3C174.6,366.8 182.4,366.8 187.6,366.7C192.8,366.5 194.9,366.9 199,367.5C203.1,368.1 207.6,368.7 212.3,370.3C217,371.9 223.4,374.8 227.2,377.1C230.9,379.5 233,382.1 234.7,384.4C236.4,386.8 236.9,388.9 237.2,391.1C237.5,393.3 237.2,395.4 236.5,397.5C235.7,399.5 234.5,401.6 232.7,403.5C230.9,405.4 229.8,407 225.7,409.1C221.7,411.2 216.5,414.6 208.2,416.1C200,417.6 185.5,418.8 176.1,418.2C166.7,417.5 157.6,414.2 151.9,412.1C146.2,410 144.2,407.8 141.7,405.8C139.2,403.8 138,402.1 136.8,400.1C135.7,398.2 135.1,396.1 134.8,394.3Z" fill="rgb(194, 209, 225)"/>
<path d="M143.4,395.5C143.2,394.2 143.2,393.2 143.7,391.9C144.1,390.5 144.4,389.2 146,387.5C147.6,385.9 149.3,383.7 153.3,381.9C157.2,380.1 164.3,377.6 169.6,376.6C175,375.5 181.2,375.4 185.3,375.3C189.4,375.2 191,375.5 194.3,376C197.6,376.4 201.1,376.8 204.8,378C208.6,379.2 213.6,381.3 216.6,383C219.6,384.7 221.2,386.6 222.6,388.3C223.9,390 224.4,391.6 224.6,393.2C224.8,394.8 224.6,396.3 224,397.8C223.4,399.3 222.4,400.8 221,402.2C219.6,403.7 218.7,404.8 215.5,406.4C212.2,407.9 208.2,410.4 201.6,411.5C195.1,412.6 183.6,413.5 176.2,413C168.7,412.5 161.5,410 157,408.5C152.4,407 150.9,405.4 148.9,403.9C146.9,402.5 146,401.2 145,399.8C144.1,398.4 143.6,396.9 143.4,395.5Z" fill="rgb(178, 199, 221)"/>
<path d="M152.1,396.8C151.9,395.9 151.9,395.3 152.3,394.4C152.6,393.6 152.8,392.7 154,391.7C155.2,390.6 156.4,389.3 159.3,388.1C162.2,387 167.5,385.5 171.4,384.8C175.3,384.1 179.9,384.1 182.9,384C186,383.9 187.2,384.1 189.6,384.4C192,384.7 194.6,385 197.4,385.7C200.1,386.4 203.9,387.7 206.1,388.8C208.2,389.9 209.5,391.1 210.5,392.2C211.4,393.3 211.8,394.3 211.9,395.3C212.1,396.3 211.9,397.3 211.5,398.2C211,399.2 210.3,400.1 209.3,401C208.2,401.9 207.6,402.6 205.2,403.6C202.8,404.6 199.8,406.1 195,406.8C190.2,407.5 181.7,408.1 176.2,407.8C170.7,407.5 165.4,405.9 162.1,405C158.7,404 157.6,403 156.1,402.1C154.7,401.1 153.9,400.3 153.3,399.4C152.6,398.6 152.2,397.6 152.1,396.8Z" fill="rgb(163, 190, 218)"/>
</g>
<line x1="106.5" y1="389.8" x2="279.7" y2="389.8" stroke="#000" stroke-width="1.45"/>
<line x1="106.5" y1="339.8" x2="279.7" y2="339.8" stroke="#f23c3c" stroke-width="1.4" stroke-dasharray="3.9 3.85"/>
<line x1="106.5" y1="440.2" x2="279.7" y2="440.2" stroke="#f23c3c" stroke-width="1.4" stroke-dasharray="3.9 3.85"/>
<circle cx="152.5" cy="355.1" r="1.75" fill="#050505"/>
<circle cx="175.4" cy="348.2" r="1.75" fill="#050505"/>
<circle cx="179.5" cy="353.1" r="1.75" fill="#050505"/>
<circle cx="171.3" cy="357.1" r="1.75" fill="#050505"/>
<circle cx="225.1" cy="351.9" r="1.75" fill="#050505"/>
<circle cx="181.1" cy="360.5" r="1.75" fill="#050505"/>
<circle cx="154.9" cy="363.3" r="1.75" fill="#050505"/>
<circle cx="167.2" cy="367.1" r="1.75" fill="#050505"/>
<circle cx="172.1" cy="367.9" r="1.75" fill="#050505"/>
<circle cx="176.7" cy="365.5" r="1.75" fill="#050505"/>
<circle cx="180.3" cy="365.5" r="1.75" fill="#050505"/>
<circle cx="181.6" cy="366.8" r="1.75" fill="#050505"/>
<circle cx="118.1" cy="372.5" r="1.75" fill="#050505"/>
<circle cx="120.1" cy="372.8" r="1.75" fill="#050505"/>
<circle cx="122.2" cy="373.2" r="1.75" fill="#050505"/>
<circle cx="122.7" cy="378.1" r="1.75" fill="#050505"/>
<circle cx="132.5" cy="369.9" r="1.75" fill="#050505"/>
<circle cx="135.8" cy="373.2" r="1.75" fill="#050505"/>
<circle cx="142.6" cy="370.4" r="1.75" fill="#050505"/>
<circle cx="150.5" cy="370.4" r="1.75" fill="#050505"/>
<circle cx="194.2" cy="375" r="1.75" fill="#050505"/>
<circle cx="180" cy="376.4" r="1.75" fill="#050505"/>
<circle cx="177" cy="381" r="1.75" fill="#050505"/>
<circle cx="178.6" cy="383.5" r="1.75" fill="#050505"/>
<circle cx="167.2" cy="379.4" r="1.75" fill="#050505"/>
<circle cx="141.3" cy="380.2" r="1.75" fill="#050505"/>
<circle cx="140.7" cy="384.3" r="1.75" fill="#050505"/>
<circle cx="138.6" cy="385.9" r="1.75" fill="#050505"/>
<circle cx="145.6" cy="384.3" r="1.75" fill="#050505"/>
<circle cx="154.1" cy="384.8" r="1.75" fill="#050505"/>
<circle cx="191.4" cy="386.2" r="1.75" fill="#050505"/>
<circle cx="193.4" cy="382.3" r="1.75" fill="#050505"/>
<circle cx="114.5" cy="390.2" r="1.75" fill="#050505"/>
<circle cx="168.8" cy="388.4" r="1.75" fill="#050505"/>
<circle cx="159" cy="393.3" r="1.75" fill="#050505"/>
<circle cx="160.6" cy="396.6" r="1.75" fill="#050505"/>
<circle cx="168.8" cy="393.8" r="1.75" fill="#050505"/>
<circle cx="177" cy="393.3" r="1.75" fill="#050505"/>
<circle cx="178.6" cy="392.8" r="1.75" fill="#050505"/>
<circle cx="188.5" cy="395.7" r="1.75" fill="#050505"/>
<circle cx="190.9" cy="397" r="1.75" fill="#050505"/>
<circle cx="130.9" cy="397" r="1.75" fill="#050505"/>
<circle cx="138.6" cy="397.4" r="1.75" fill="#050505"/>
<circle cx="145.6" cy="395.7" r="1.75" fill="#050505"/>
<circle cx="144" cy="401.5" r="1.75" fill="#050505"/>
<circle cx="157.7" cy="401.5" r="1.75" fill="#050505"/>
<circle cx="159" cy="402.3" r="1.75" fill="#050505"/>
<circle cx="171.3" cy="402.3" r="1.75" fill="#050505"/>
<circle cx="175" cy="403.1" r="1.75" fill="#050505"/>
<circle cx="178.6" cy="401" r="1.75" fill="#050505"/>
<circle cx="161.5" cy="405.9" r="1.75" fill="#050505"/>
<circle cx="188.5" cy="406.4" r="1.75" fill="#050505"/>
<circle cx="152.5" cy="407.5" r="1.75" fill="#050505"/>
<circle cx="144.3" cy="408" r="1.75" fill="#050505"/>
<circle cx="141.8" cy="410.5" r="1.75" fill="#050505"/>
<circle cx="134.5" cy="410" r="1.75" fill="#050505"/>
<circle cx="178.6" cy="410" r="1.75" fill="#050505"/>
<circle cx="194.7" cy="409.6" r="1.75" fill="#050505"/>
<circle cx="196.9" cy="361.8" r="1.75" fill="#050505"/>
<circle cx="209.3" cy="361.4" r="1.75" fill="#050505"/>
<circle cx="224.2" cy="375.2" r="1.75" fill="#050505"/>
<circle cx="228.3" cy="378.2" r="1.75" fill="#050505"/>
<circle cx="240.1" cy="374.7" r="1.75" fill="#050505"/>
<circle cx="241.8" cy="373.8" r="1.75" fill="#050505"/>
<circle cx="265.5" cy="374.9" r="1.75" fill="#050505"/>
<circle cx="202.1" cy="381.6" r="1.75" fill="#050505"/>
<circle cx="209.3" cy="380.1" r="1.75" fill="#050505"/>
<circle cx="206.4" cy="387" r="1.75" fill="#050505"/>
<circle cx="203.5" cy="389.6" r="1.75" fill="#050505"/>
<circle cx="210.4" cy="389" r="1.75" fill="#050505"/>
<circle cx="212.5" cy="389.6" r="1.75" fill="#050505"/>
<circle cx="215.9" cy="385.6" r="1.75" fill="#050505"/>
<circle cx="234.6" cy="387.3" r="1.75" fill="#050505"/>
<circle cx="260.5" cy="388.2" r="1.75" fill="#050505"/>
<circle cx="220.2" cy="393" r="1.75" fill="#050505"/>
<circle cx="237.5" cy="392.5" r="1.75" fill="#050505"/>
<circle cx="240.6" cy="394.6" r="1.75" fill="#050505"/>
<circle cx="195.2" cy="399.9" r="1.75" fill="#050505"/>
<circle cx="200.7" cy="395.4" r="1.75" fill="#050505"/>
<circle cx="201.7" cy="397.7" r="1.75" fill="#050505"/>
<circle cx="211.9" cy="399.1" r="1.75" fill="#050505"/>
<circle cx="272" cy="403.2" r="1.75" fill="#050505"/>
<circle cx="218.5" cy="408.6" r="1.75" fill="#050505"/>
<circle cx="200" cy="412.4" r="1.75" fill="#050505"/>
<circle cx="227.1" cy="413.4" r="1.75" fill="#050505"/>
<circle cx="271.5" cy="411.9" r="1.75" fill="#050505"/>
<circle cx="211.6" cy="414.8" r="1.75" fill="#050505"/>
<circle cx="122.2" cy="416.4" r="1.75" fill="#050505"/>
<circle cx="152.5" cy="415.1" r="1.75" fill="#050505"/>
<circle cx="189.3" cy="416.4" r="1.75" fill="#050505"/>
<circle cx="194.2" cy="418.8" r="1.75" fill="#050505"/>
<circle cx="175.4" cy="420.5" r="1.75" fill="#050505"/>
<circle cx="146.2" cy="428.3" r="1.75" fill="#050505"/>
<circle cx="227.7" cy="416.4" r="1.75" fill="#050505"/>
<circle cx="196.9" cy="415.2" r="1.75" fill="#050505"/>
<circle cx="196" cy="417.6" r="1.75" fill="#050505"/>
<circle cx="210.4" cy="415.5" r="1.75" fill="#050505"/>
<circle cx="211.9" cy="415.2" r="1.75" fill="#050505"/>
<circle cx="211.2" cy="422.5" r="1.75" fill="#050505"/>
<circle cx="222.8" cy="424.5" r="1.75" fill="#050505"/>
<circle cx="225.8" cy="423" r="1.75" fill="#050505"/>
<circle cx="242.3" cy="424.2" r="1.75" fill="#050505"/>
<circle cx="200.7" cy="426.3" r="1.75" fill="#050505"/>
<circle cx="203.8" cy="432.3" r="1.75" fill="#050505"/>
<circle cx="213.3" cy="436.8" r="1.75" fill="#050505"/>
<circle cx="251.3" cy="440.2" r="1.75" fill="#050505"/>
<line x1="221.1" y1="329.1" x2="223.9" y2="323.5" stroke="#222" stroke-width="0.9"/>
<circle cx="157.7" cy="304.9" r="2.3" fill="#e80000" stroke="#4a0000" stroke-width="0.7"/>
<circle cx="162.6" cy="321.9" r="2.3" fill="#e80000" stroke="#4a0000" stroke-width="0.7"/>
<circle cx="201.6" cy="333.3" r="2.3" fill="#e80000" stroke="#4a0000" stroke-width="0.7"/>
<circle cx="200" cy="338.6" r="2.3" fill="#e80000" stroke="#4a0000" stroke-width="0.7"/>
<circle cx="221.1" cy="329.1" r="2.3" fill="#e80000" stroke="#4a0000" stroke-width="0.7"/>
<circle cx="174.1" cy="440.4" r="2.3" fill="#e80000" stroke="#4a0000" stroke-width="0.7"/>
<rect x="136.8" y="293.4" width="16.6" height="12.7" rx="2" fill="#fff" stroke="#7c7c7c" stroke-width="1"/>
<text class="lb" transform="translate(145.1 303.4) scale(1 1.16)" text-anchor="middle">97</text>
<rect x="164" y="325.8" width="16.2" height="12.7" rx="2" fill="#fff" stroke="#7c7c7c" stroke-width="1"/>
<text class="lb" transform="translate(172.1 335.8) scale(1 1.16)" text-anchor="middle">16</text>
<rect x="201.1" y="317.6" width="15.8" height="12" rx="2" fill="#fff" stroke="#7c7c7c" stroke-width="1"/>
<text class="lb" transform="translate(209 327.2) scale(1 1.16)" text-anchor="middle">54</text>
<rect x="224.1" y="312.3" width="16.5" height="12.6" rx="2" fill="#fff" stroke="#7c7c7c" stroke-width="1"/>
<text class="lb" transform="translate(232.3 322.2) scale(1 1.16)" text-anchor="middle">60</text>
<rect x="187" y="343.1" width="21.3" height="11.5" rx="2" fill="#fff" stroke="#7c7c7c" stroke-width="1"/>
<text class="lb" transform="translate(197.6 352.5) scale(1 1.16)" text-anchor="middle">143</text>
<rect x="172.2" y="423.8" width="21.6" height="12.4" rx="2" fill="#fff" stroke="#7c7c7c" stroke-width="1"/>
<text class="lb" transform="translate(183 433.6) scale(1 1.16)" text-anchor="middle">116</text>
</g>
<rect x="106.5" y="290.4" width="173.2" height="201" fill="none" stroke="#686868" stroke-width="1.15"/>
<line x1="162.7" y1="491.4" x2="162.7" y2="494.0" stroke="#444" stroke-width="0.9"/>
<text class="tk" transform="translate(162.7 502) scale(1 1.12)" text-anchor="middle">15</text>
<line x1="220.7" y1="491.4" x2="220.7" y2="494.0" stroke="#444" stroke-width="0.9"/>
<text class="tk" transform="translate(220.7 502) scale(1 1.12)" text-anchor="middle">20</text>
<line x1="278.7" y1="491.4" x2="278.7" y2="494.0" stroke="#444" stroke-width="0.9"/>
<text class="tk" transform="translate(278.7 502) scale(1 1.12)" text-anchor="middle">25</text>
<line x1="103.9" y1="316" x2="106.5" y2="316" stroke="#444" stroke-width="0.9"/>
<text class="tk" transform="translate(101.5 318.9) scale(1 1.12)" text-anchor="end">10</text>
<line x1="103.9" y1="367.4" x2="106.5" y2="367.4" stroke="#444" stroke-width="0.9"/>
<text class="tk" transform="translate(101.5 370.3) scale(1 1.12)" text-anchor="end">5</text>
<line x1="103.9" y1="418.8" x2="106.5" y2="418.8" stroke="#444" stroke-width="0.9"/>
<text class="tk" transform="translate(101.5 421.7) scale(1 1.12)" text-anchor="end">0</text>
<line x1="103.9" y1="470.2" x2="106.5" y2="470.2" stroke="#444" stroke-width="0.9"/>
<text class="tk" transform="translate(101.5 473.1) scale(1 1.12)" text-anchor="end">−5</text>
<g clip-path="url(#cBR)">
<line x1="355.2" y1="290.3" x2="355.2" y2="491.7" stroke="#f2f2f2" stroke-width="0.6"/>
<line x1="405.4" y1="290.3" x2="405.4" y2="491.7" stroke="#f2f2f2" stroke-width="0.6"/>
<line x1="455.6" y1="290.3" x2="455.6" y2="491.7" stroke="#f2f2f2" stroke-width="0.6"/>
<line x1="326" y1="342.1" x2="500" y2="342.1" stroke="#f2f2f2" stroke-width="0.6"/>
<line x1="326" y1="393.6" x2="500" y2="393.6" stroke="#f2f2f2" stroke-width="0.6"/>
<line x1="326" y1="445.1" x2="500" y2="445.1" stroke="#f2f2f2" stroke-width="0.6"/>
<line x1="330.1" y1="290.3" x2="330.1" y2="491.7" stroke="#e8e8e8" stroke-width="0.9"/>
<line x1="380.3" y1="290.3" x2="380.3" y2="491.7" stroke="#e8e8e8" stroke-width="0.9"/>
<line x1="430.5" y1="290.3" x2="430.5" y2="491.7" stroke="#e8e8e8" stroke-width="0.9"/>
<line x1="480.7" y1="290.3" x2="480.7" y2="491.7" stroke="#e8e8e8" stroke-width="0.9"/>
<line x1="326" y1="316.3" x2="500" y2="316.3" stroke="#e8e8e8" stroke-width="0.9"/>
<line x1="326" y1="367.8" x2="500" y2="367.8" stroke="#e8e8e8" stroke-width="0.9"/>
<line x1="326" y1="419.3" x2="500" y2="419.3" stroke="#e8e8e8" stroke-width="0.9"/>
<line x1="326" y1="470.8" x2="500" y2="470.8" stroke="#e8e8e8" stroke-width="0.9"/>
<g filter="url(#soft)">
<path d="M345,410C345.3,405.7 347.8,401.3 352,398C356.2,394.7 362,392.2 370,390C378,387.8 390,386.2 400,385C410,383.8 420.8,382.7 430,383C439.2,383.3 448,385.2 455,387C462,388.8 468.3,391.5 472,394C475.7,396.5 477.3,399 477,402C476.7,405 474.5,408.7 470,412C465.5,415.3 458.3,419 450,422C441.7,425 430,428.2 420,430C410,431.8 399.2,432.8 390,433C380.8,433.2 371.7,432.5 365,431C358.3,429.5 353.3,427.5 350,424C346.7,420.5 344.7,414.3 345,410Z" fill="rgb(243, 244, 246)"/>
<path d="M349.8,409.7C350.1,406 352.2,402.2 355.8,399.3C359.4,396.3 364.3,394.2 371.5,392.2C378.7,390.2 389.6,388.4 399,387.4C408.3,386.3 419.3,385.5 427.8,385.9C436.3,386.2 443.8,388 449.9,389.6C456.1,391.3 461.5,393.6 464.7,395.8C467.9,398 469.3,400.2 469,402.8C468.7,405.4 466.9,408.6 463,411.5C459.2,414.4 453.2,417.6 445.8,420.3C438.4,423 428,426.1 418.6,427.7C409.3,429.4 398.1,430.1 389.6,430.2C381,430.3 373.2,429.5 367.3,428.1C361.4,426.8 357.1,425 354.2,422C351.3,418.9 349.5,413.5 349.8,409.7Z" fill="rgb(233, 236, 240)"/>
<path d="M356,409.4C356.2,406.3 357.9,403.3 360.8,400.9C363.7,398.5 367.2,396.7 373.4,395C379.5,393.3 389,391.4 397.6,390.5C406.2,389.6 417.2,389.1 424.8,389.6C432.5,390 438.3,391.6 443.4,393C448.4,394.5 452.6,396.4 455.2,398.2C457.7,400 458.9,401.7 458.7,403.8C458.5,405.9 457.1,408.4 454,410.8C450.9,413.2 446.5,415.8 440.3,418.1C434.1,420.4 425.4,423.3 416.8,424.7C408.3,426.1 396.8,426.6 389,426.6C381.3,426.5 375.1,425.7 370.2,424.4C365.3,423.2 362,421.8 359.6,419.3C357.2,416.8 355.8,412.5 356,409.4Z" fill="rgb(222, 227, 234)"/>
<path d="M362.9,409C363,406.8 364.2,404.6 366.3,402.8C368.4,400.9 370.5,399.6 375.5,398.1C380.5,396.6 388.4,394.6 396.1,393.9C403.8,393.1 415,393.2 421.6,393.7C428.3,394.2 432.3,395.6 436.1,396.8C439.9,398 442.8,399.4 444.6,400.8C446.5,402.1 447.3,403.4 447.2,404.9C447,406.5 446.1,408.3 444,410.1C441.8,411.9 439.1,413.7 434.2,415.6C429.4,417.5 422.5,420.3 414.9,421.4C407.2,422.6 395.4,422.7 388.5,422.5C381.6,422.4 377.3,421.4 373.5,420.3C369.6,419.3 367.4,418.2 365.6,416.3C363.8,414.5 362.8,411.3 362.9,409Z" fill="rgb(208, 218, 229)"/>
<path d="M370.3,408.6C370.3,407.2 370.9,405.9 372.2,404.7C373.4,403.5 374,402.7 377.7,401.5C381.5,400.3 387.7,398.1 394.5,397.5C401.2,397 412.5,397.5 418.2,398.1C423.8,398.7 425.8,400 428.3,400.9C430.8,401.8 432.3,402.7 433.4,403.6C434.5,404.4 434.9,405.2 434.9,406.1C434.8,407.1 434.4,408.1 433.2,409.3C432.1,410.4 431.1,411.6 427.7,413C424.3,414.4 419.4,417 412.8,417.9C406.1,418.7 393.8,418.5 387.8,418.2C381.8,417.9 379.6,416.8 376.9,415.9C374.3,415.1 373.1,414.4 372,413.2C370.9,412 370.2,410.1 370.3,408.6Z" fill="rgb(194, 209, 225)"/>
<path d="M378,408.2C377.9,407.7 378,407.3 378.3,406.8C378.7,406.2 377.7,405.9 380.1,405C382.5,404.1 387,401.8 392.8,401.4C398.5,401 410,402.1 414.5,402.7C419.1,403.4 418.9,404.5 420.1,405.1C421.2,405.8 421.2,406.1 421.5,406.5C421.8,406.9 421.8,407.1 421.9,407.4C422,407.7 422.1,408 422,408.5C421.8,408.9 422.8,409.3 420.9,410.2C419,411.2 416.2,413.6 410.5,414.1C404.9,414.7 392.1,414.2 387.1,413.7C382.2,413.2 382,411.9 380.6,411.3C379.2,410.7 379.2,410.4 378.8,409.9C378.4,409.3 378.1,408.7 378,408.2Z" fill="rgb(178, 199, 221)"/>
</g>
<line x1="326" y1="408.7" x2="500" y2="408.7" stroke="#000" stroke-width="1.45"/>
<line x1="326" y1="373.6" x2="500" y2="373.6" stroke="#f23c3c" stroke-width="1.4" stroke-dasharray="3.9 3.85"/>
<line x1="326" y1="443.8" x2="500" y2="443.8" stroke="#f23c3c" stroke-width="1.4" stroke-dasharray="3.9 3.85"/>
<circle cx="333.5" cy="381" r="1.75" fill="#050505"/>
<circle cx="357.4" cy="388.4" r="1.75" fill="#050505"/>
<circle cx="357.7" cy="395.7" r="1.75" fill="#050505"/>
<circle cx="364.3" cy="396.6" r="1.75" fill="#050505"/>
<circle cx="357.7" cy="403.6" r="1.75" fill="#050505"/>
<circle cx="361.8" cy="403.6" r="1.75" fill="#050505"/>
<circle cx="363.5" cy="411.3" r="1.75" fill="#050505"/>
<circle cx="385.6" cy="388.4" r="1.75" fill="#050505"/>
<circle cx="397" cy="385.1" r="1.75" fill="#050505"/>
<circle cx="398.3" cy="384.3" r="1.75" fill="#050505"/>
<circle cx="393.7" cy="391.6" r="1.75" fill="#050505"/>
<circle cx="383.9" cy="399.3" r="1.75" fill="#050505"/>
<circle cx="387.2" cy="399.8" r="1.75" fill="#050505"/>
<circle cx="389.6" cy="399.8" r="1.75" fill="#050505"/>
<circle cx="391.8" cy="399.5" r="1.75" fill="#050505"/>
<circle cx="393.7" cy="399.5" r="1.75" fill="#050505"/>
<circle cx="387.2" cy="402.6" r="1.75" fill="#050505"/>
<circle cx="383.1" cy="404.7" r="1.75" fill="#050505"/>
<circle cx="381.5" cy="408.8" r="1.75" fill="#050505"/>
<circle cx="383.9" cy="409.2" r="1.75" fill="#050505"/>
<circle cx="376.1" cy="409.6" r="1.75" fill="#050505"/>
<circle cx="375.7" cy="412.1" r="1.75" fill="#050505"/>
<circle cx="397" cy="408" r="1.75" fill="#050505"/>
<circle cx="401.1" cy="399.8" r="1.75" fill="#050505"/>
<circle cx="401.9" cy="402" r="1.75" fill="#050505"/>
<circle cx="405.2" cy="404.2" r="1.75" fill="#050505"/>
<circle cx="407.7" cy="397.4" r="1.75" fill="#050505"/>
<circle cx="410.1" cy="399" r="1.75" fill="#050505"/>
<circle cx="411.7" cy="393.3" r="1.75" fill="#050505"/>
<circle cx="414.7" cy="401.5" r="1.75" fill="#050505"/>
<circle cx="399.1" cy="412.1" r="1.75" fill="#050505"/>
<circle cx="406.5" cy="412.9" r="1.75" fill="#050505"/>
<circle cx="411.4" cy="411.3" r="1.75" fill="#050505"/>
<circle cx="446.3" cy="377.8" r="1.75" fill="#050505"/>
<circle cx="438" cy="383" r="1.75" fill="#050505"/>
<circle cx="433.7" cy="392.2" r="1.75" fill="#050505"/>
<circle cx="426.4" cy="396.5" r="1.75" fill="#050505"/>
<circle cx="438" cy="397.2" r="1.75" fill="#050505"/>
<circle cx="438.5" cy="398.9" r="1.75" fill="#050505"/>
<circle cx="443.3" cy="396.5" r="1.75" fill="#050505"/>
<circle cx="416.6" cy="401.6" r="1.75" fill="#050505"/>
<circle cx="420.4" cy="400.6" r="1.75" fill="#050505"/>
<circle cx="424.7" cy="402.9" r="1.75" fill="#050505"/>
<circle cx="428.7" cy="401.6" r="1.75" fill="#050505"/>
<circle cx="467.9" cy="400" r="1.75" fill="#050505"/>
<circle cx="452" cy="403.7" r="1.75" fill="#050505"/>
<circle cx="414.3" cy="406.3" r="1.75" fill="#050505"/>
<circle cx="418.6" cy="405.8" r="1.75" fill="#050505"/>
<circle cx="426.9" cy="405.8" r="1.75" fill="#050505"/>
<circle cx="410.9" cy="409.2" r="1.75" fill="#050505"/>
<circle cx="421.2" cy="409.8" r="1.75" fill="#050505"/>
<circle cx="423" cy="409.2" r="1.75" fill="#050505"/>
<circle cx="423.8" cy="411.5" r="1.75" fill="#050505"/>
<circle cx="431.6" cy="411" r="1.75" fill="#050505"/>
<circle cx="439" cy="412.7" r="1.75" fill="#050505"/>
<circle cx="452" cy="409.8" r="1.75" fill="#050505"/>
<circle cx="462.7" cy="408" r="1.75" fill="#050505"/>
<circle cx="466.1" cy="410.3" r="1.75" fill="#050505"/>
<circle cx="479.1" cy="412" r="1.75" fill="#050505"/>
<circle cx="364.3" cy="416.4" r="1.75" fill="#050505"/>
<circle cx="361.8" cy="422.1" r="1.75" fill="#050505"/>
<circle cx="363" cy="422.6" r="1.75" fill="#050505"/>
<circle cx="366.7" cy="426.5" r="1.75" fill="#050505"/>
<circle cx="374.1" cy="416.4" r="1.75" fill="#050505"/>
<circle cx="373.3" cy="419.3" r="1.75" fill="#050505"/>
<circle cx="378.2" cy="420.5" r="1.75" fill="#050505"/>
<circle cx="379" cy="421.3" r="1.75" fill="#050505"/>
<circle cx="380.6" cy="423.2" r="1.75" fill="#050505"/>
<circle cx="382.3" cy="416.7" r="1.75" fill="#050505"/>
<circle cx="383.1" cy="417.7" r="1.75" fill="#050505"/>
<circle cx="386.4" cy="419.3" r="1.75" fill="#050505"/>
<circle cx="391.3" cy="422.6" r="1.75" fill="#050505"/>
<circle cx="397" cy="417.7" r="1.75" fill="#050505"/>
<circle cx="397.8" cy="418.3" r="1.75" fill="#050505"/>
<circle cx="401.9" cy="415.5" r="1.75" fill="#050505"/>
<circle cx="406" cy="413.1" r="1.75" fill="#050505"/>
<circle cx="406.8" cy="416.4" r="1.75" fill="#050505"/>
<circle cx="410.1" cy="415.5" r="1.75" fill="#050505"/>
<circle cx="409.3" cy="421.3" r="1.75" fill="#050505"/>
<circle cx="410.1" cy="426.2" r="1.75" fill="#050505"/>
<circle cx="395.4" cy="430.8" r="1.75" fill="#050505"/>
<circle cx="392.9" cy="435.2" r="1.75" fill="#050505"/>
<circle cx="388" cy="437.3" r="1.75" fill="#050505"/>
<circle cx="399" cy="439.3" r="1.75" fill="#050505"/>
<circle cx="411.7" cy="413.8" r="1.75" fill="#050505"/>
<circle cx="420.4" cy="411.7" r="1.75" fill="#050505"/>
<circle cx="424.7" cy="412.4" r="1.75" fill="#050505"/>
<circle cx="413.5" cy="415.5" r="1.75" fill="#050505"/>
<circle cx="416.9" cy="417.3" r="1.75" fill="#050505"/>
<circle cx="419.5" cy="417.3" r="1.75" fill="#050505"/>
<circle cx="423.5" cy="417.3" r="1.75" fill="#050505"/>
<circle cx="431.6" cy="411.2" r="1.75" fill="#050505"/>
<circle cx="433.3" cy="412.1" r="1.75" fill="#050505"/>
<circle cx="439.4" cy="413" r="1.75" fill="#050505"/>
<circle cx="452.3" cy="409.5" r="1.75" fill="#050505"/>
<circle cx="473" cy="416.4" r="1.75" fill="#050505"/>
<circle cx="432.5" cy="417.3" r="1.75" fill="#050505"/>
<circle cx="432.8" cy="419.3" r="1.75" fill="#050505"/>
<circle cx="439.4" cy="419.3" r="1.75" fill="#050505"/>
<circle cx="434.2" cy="422.5" r="1.75" fill="#050505"/>
<circle cx="443.7" cy="421.6" r="1.75" fill="#050505"/>
<circle cx="452.8" cy="422.5" r="1.75" fill="#050505"/>
<circle cx="492" cy="422.5" r="1.75" fill="#050505"/>
<circle cx="427.3" cy="434" r="1.75" fill="#050505"/>
<circle cx="454.6" cy="435.9" r="1.75" fill="#050505"/>
<line x1="407.3" y1="367.7" x2="414.6" y2="376.6" stroke="#222" stroke-width="0.9"/>
<circle cx="361.8" cy="346.2" r="2.3" fill="#e80000" stroke="#4a0000" stroke-width="0.7"/>
<circle cx="379.8" cy="352.4" r="2.3" fill="#e80000" stroke="#4a0000" stroke-width="0.7"/>
<circle cx="383.1" cy="353.4" r="2.3" fill="#e80000" stroke="#4a0000" stroke-width="0.7"/>
<circle cx="407.3" cy="367.7" r="2.3" fill="#e80000" stroke="#4a0000" stroke-width="0.7"/>
<circle cx="363.4" cy="454.6" r="2.3" fill="#e80000" stroke="#4a0000" stroke-width="0.7"/>
<circle cx="485.4" cy="477.3" r="2.3" fill="#e80000" stroke="#4a0000" stroke-width="0.7"/>
<rect x="345" y="329.1" width="15.6" height="12.7" rx="2" fill="#fff" stroke="#7c7c7c" stroke-width="1"/>
<text class="lb" transform="translate(352.8 339.1) scale(1 1.16)" text-anchor="middle">33</text>
<rect x="368.3" y="335.7" width="19.8" height="12.4" rx="2" fill="#fff" stroke="#7c7c7c" stroke-width="1"/>
<text class="lb" transform="translate(378.2 345.5) scale(1 1.16)" text-anchor="middle">120</text>
<rect x="381.4" y="358" width="21.7" height="12.4" rx="2" fill="#fff" stroke="#7c7c7c" stroke-width="1"/>
<text class="lb" transform="translate(392.2 367.8) scale(1 1.16)" text-anchor="middle">165</text>
<rect x="410" y="377" width="16.4" height="12.5" rx="2" fill="#fff" stroke="#7c7c7c" stroke-width="1"/>
<text class="lb" transform="translate(418.2 386.9) scale(1 1.16)" text-anchor="middle">25</text>
<rect x="343" y="459.1" width="22.1" height="13.1" rx="2" fill="#fff" stroke="#7c7c7c" stroke-width="1"/>
<text class="lb" transform="translate(354.1 469.2) scale(1 1.16)" text-anchor="middle">133</text>
<rect x="465.7" y="476.8" width="15.3" height="11.8" rx="2" fill="#fff" stroke="#7c7c7c" stroke-width="1"/>
<text class="lb" transform="translate(473.4 486.3) scale(1 1.16)" text-anchor="middle">58</text>
</g>
<rect x="326" y="290.3" width="174" height="201.4" fill="none" stroke="#686868" stroke-width="1.15"/>
<line x1="330.1" y1="491.7" x2="330.1" y2="494.3" stroke="#444" stroke-width="0.9"/>
<text class="tk" transform="translate(330.1 502.3) scale(1 1.12)" text-anchor="middle">10</text>
<line x1="380.3" y1="491.7" x2="380.3" y2="494.3" stroke="#444" stroke-width="0.9"/>
<text class="tk" transform="translate(380.3 502.3) scale(1 1.12)" text-anchor="middle">15</text>
<line x1="430.5" y1="491.7" x2="430.5" y2="494.3" stroke="#444" stroke-width="0.9"/>
<text class="tk" transform="translate(430.5 502.3) scale(1 1.12)" text-anchor="middle">20</text>
<line x1="480.7" y1="491.7" x2="480.7" y2="494.3" stroke="#444" stroke-width="0.9"/>
<text class="tk" transform="translate(480.7 502.3) scale(1 1.12)" text-anchor="middle">25</text>
<line x1="323.4" y1="316.3" x2="326" y2="316.3" stroke="#444" stroke-width="0.9"/>
<text class="tk" transform="translate(321 319.2) scale(1 1.12)" text-anchor="end">10</text>
<line x1="323.4" y1="367.8" x2="326" y2="367.8" stroke="#444" stroke-width="0.9"/>
<text class="tk" transform="translate(321 370.7) scale(1 1.12)" text-anchor="end">5</text>
<line x1="323.4" y1="419.3" x2="326" y2="419.3" stroke="#444" stroke-width="0.9"/>
<text class="tk" transform="translate(321 422.2) scale(1 1.12)" text-anchor="end">0</text>
<line x1="323.4" y1="470.8" x2="326" y2="470.8" stroke="#444" stroke-width="0.9"/>
<text class="tk" transform="translate(321 473.7) scale(1 1.12)" text-anchor="end">−5</text>
<text class="ti" x="119" y="37">TAVI-PREP vs Expert 1</text>
<text class="ti" x="337" y="37">Expert 1 vs Expert 2</text>
<text class="ax" transform="translate(48.8,153.85) rotate(-90)" text-anchor="middle">Difference Between Measurements</text>
<text class="ax" transform="translate(72,154.25) rotate(-90)" text-anchor="middle">Annulus area</text>
<text class="ax" transform="translate(49.4,381.6) rotate(-90)" text-anchor="middle">Difference Between Measurements</text>
<text class="ax" transform="translate(71.3,380.7) rotate(-90)" text-anchor="middle">Right coronary height</text>
<text class="axx" x="193.2" y="512.3" text-anchor="middle">Average Measurement</text>
<text class="axx" x="412.6" y="512.6" text-anchor="middle">Average Measurement</text>
<text class="pl" x="5.5" y="151">(a)</text>
<text class="pl" x="525" y="151">(b)</text>
<text class="pl" x="5.5" y="404">(c)</text>
<text class="pl" x="525" y="404">(d)</text>
</svg></body></html>
